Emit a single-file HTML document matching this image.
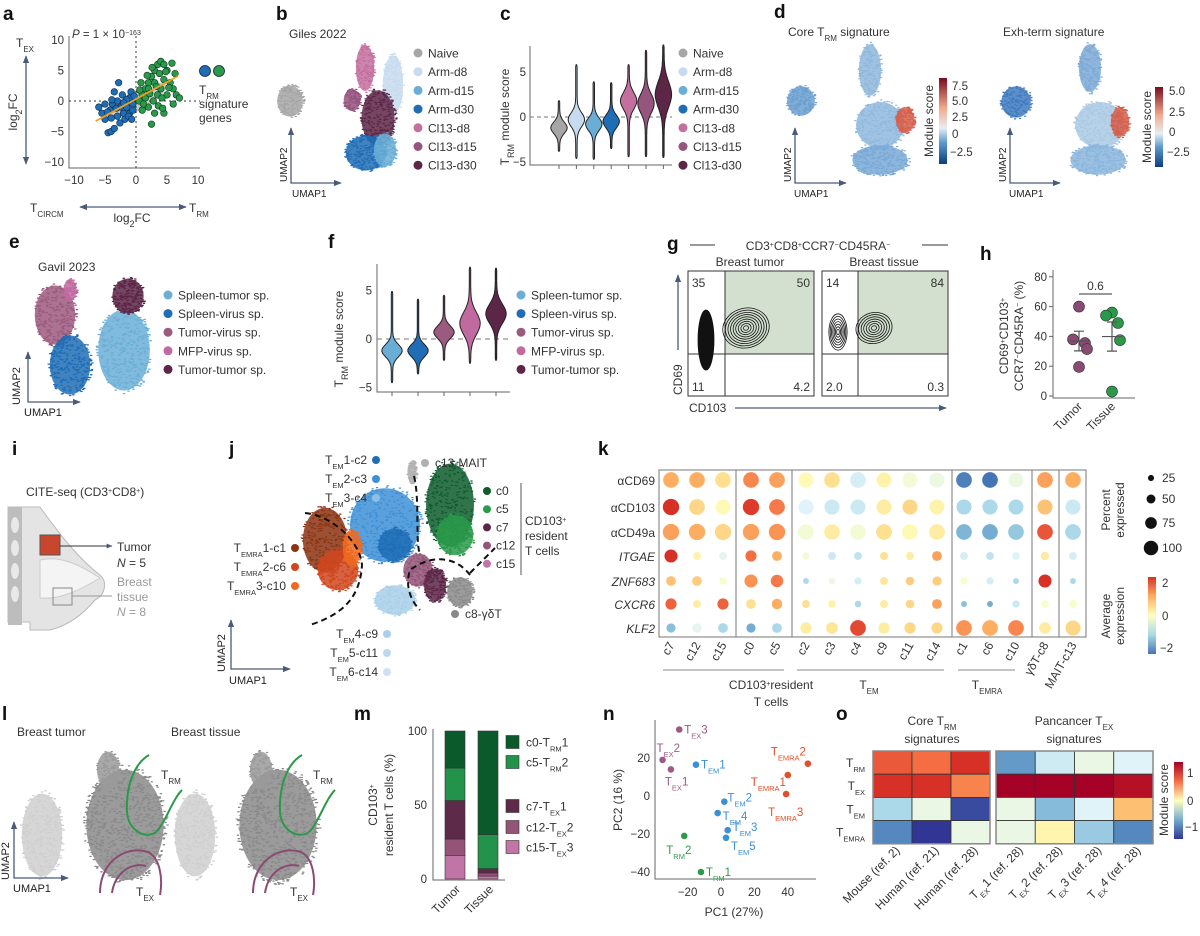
<!DOCTYPE html>
<html><head><meta charset="utf-8"><style>
html,body{margin:0;padding:0;background:#fff;}
svg{display:block;font-family:"Liberation Sans",Arial,sans-serif;}
text{fill:#222;}
.pl{font-weight:bold;font-size:19px;fill:#111;}
.tk{font-size:11.5px;fill:#333;}
.lg{font-size:12px;fill:#333;}
.ax{stroke:#666;stroke-width:1;fill:none;}
.ua{stroke:#4a5a7a;stroke-width:1.3;fill:none;}
</style></head><body>
<svg id="fig" width="1200" height="936" viewBox="0 0 1200 936">
<defs>
<marker id="ah" viewBox="0 0 10 10" refX="9" refY="5" markerWidth="6" markerHeight="6" orient="auto-start-reverse"><path d="M0,1 L10,5 L0,9 z" fill="#4a5a7a"/></marker>
<linearGradient id="gk" x1="0" y1="1" x2="0" y2="0"><stop offset="0" stop-color="#4575b4"/><stop offset="0.25" stop-color="#abd9e9"/><stop offset="0.5" stop-color="#ffffbf"/><stop offset="0.75" stop-color="#fdae61"/><stop offset="1" stop-color="#d73027"/></linearGradient>
<linearGradient id="gd" x1="0" y1="1" x2="0" y2="0"><stop offset="0" stop-color="#0d3d80"/><stop offset="0.25" stop-color="#5b9bd0"/><stop offset="0.42" stop-color="#e8eef3"/><stop offset="0.65" stop-color="#f3a98c"/><stop offset="1" stop-color="#7a0c1e"/></linearGradient>
<linearGradient id="go" x1="0" y1="1" x2="0" y2="0"><stop offset="0" stop-color="#313695"/><stop offset="0.25" stop-color="#74add1"/><stop offset="0.5" stop-color="#ffffbf"/><stop offset="0.75" stop-color="#f46d43"/><stop offset="1" stop-color="#a50026"/></linearGradient>
</defs>

<!-- ============ panel a ============ -->
<g>
<text class="pl" x="3" y="20">a</text>
<g id="aplot"></g>
<text class="lg" x="16" y="47">T<tspan font-size="8" baseline-shift="sub">EX</tspan></text>
<line class="ua" x1="26" y1="56" x2="26" y2="164" marker-start="url(#ah)" marker-end="url(#ah)"/>
<text class="lg" font-size="14" transform="translate(17,112) rotate(-90)" text-anchor="middle">log<tspan font-size="9" baseline-shift="sub">2</tspan>FC</text>
<line class="ua" x1="80" y1="207" x2="186" y2="207" marker-start="url(#ah)" marker-end="url(#ah)"/>
<text class="lg" x="30" y="212">T<tspan font-size="8" baseline-shift="sub">CIRCM</tspan></text>
<text class="lg" x="189" y="212">T<tspan font-size="8" baseline-shift="sub">RM</tspan></text>
<text class="lg" font-size="14" x="132" y="222" text-anchor="middle">log<tspan font-size="9" baseline-shift="sub">2</tspan>FC</text>
<text class="tk" x="72" y="38"><tspan font-style="italic">P</tspan> = 1 × 10<tspan font-size="7" baseline-shift="super">−163</tspan></text>
<circle cx="205" cy="71" r="5.5" fill="#1f6db5" stroke="#123" stroke-width="0.8"/>
<circle cx="219" cy="71" r="5.5" fill="#2a9a4a" stroke="#123" stroke-width="0.8"/>
<text class="lg" x="199" y="94">T<tspan font-size="8" baseline-shift="sub">RM</tspan></text>
<text class="lg" x="199" y="108">signature</text>
<text class="lg" x="199" y="122">genes</text>
</g>

<!-- ============ panel b ============ -->
<g>
<text class="pl" x="276" y="20">b</text>
<text class="lg" x="289" y="38">Giles 2022</text>
<g id="bumap"></g>
<polyline class="ua" points="291,128 291,183 341,183" marker-start="url(#ah)" marker-end="url(#ah)"/>
<text font-size="10" transform="translate(287,182) rotate(-90)">UMAP2</text>
<text font-size="10" x="292" y="197">UMAP1</text>
<g id="blegend"></g>
</g>

<!-- ============ panel c ============ -->
<g>
<text class="pl" x="500" y="20">c</text>
<g id="cplot"></g>
<text class="lg" font-size="13.5" transform="translate(509,117) rotate(-90)" text-anchor="middle">T<tspan font-size="9" baseline-shift="sub">RM</tspan> module score</text>
<g id="clegend"></g>
</g>

<!-- ============ panel d ============ -->
<g>
<text class="pl" x="774" y="18">d</text>
<text class="lg" font-size="13" x="788" y="36">Core T<tspan font-size="8" baseline-shift="sub">RM</tspan> signature</text>
<text class="lg" font-size="13" x="1003" y="36">Exh-term signature</text>
<g id="dumap"></g>
<polyline class="ua" points="795,128 795,183 846,183" marker-start="url(#ah)" marker-end="url(#ah)"/>
<text font-size="10" transform="translate(791,182) rotate(-90)">UMAP2</text>
<text font-size="10" x="794" y="197">UMAP1</text>
<polyline class="ua" points="1010,128 1010,183 1060,183" marker-start="url(#ah)" marker-end="url(#ah)"/>
<text font-size="10" transform="translate(1006,182) rotate(-90)">UMAP2</text>
<text font-size="10" x="1009" y="197">UMAP1</text>
<rect x="939" y="78" width="8" height="86" fill="url(#gd)"/>
<text class="tk" x="952" y="90">7.5</text>
<text class="tk" x="952" y="105">5.0</text>
<text class="tk" x="952" y="121">2.5</text>
<text class="tk" x="952" y="138">0</text>
<text class="tk" x="950" y="156">−2.5</text>
<text class="lg" font-size="13" transform="translate(933,121) rotate(-90)" text-anchor="middle">Module score</text>
<rect x="1155" y="87" width="8" height="80" fill="url(#gd)"/>
<text class="tk" x="1169" y="95">5.0</text>
<text class="tk" x="1169" y="116">2.5</text>
<text class="tk" x="1169" y="136">0</text>
<text class="tk" x="1167" y="156">−2.5</text>
<text class="lg" font-size="13" transform="translate(1151,127) rotate(-90)" text-anchor="middle">Module score</text>
</g>

<!-- ============ panel e ============ -->
<g>
<text class="pl" x="9" y="248">e</text>
<text class="lg" x="38" y="271">Gavil 2023</text>
<g id="eumap"></g>
<polyline class="ua" points="28,352 28,402 80,402" marker-start="url(#ah)" marker-end="url(#ah)"/>
<text font-size="11" transform="translate(20,405) rotate(-90)">UMAP2</text>
<text font-size="11" x="24" y="416">UMAP1</text>
<g id="elegend"></g>
</g>

<!-- ============ panel f ============ -->
<g>
<text class="pl" x="328" y="248">f</text>
<g id="fplot"></g>
<text class="lg" font-size="14" transform="translate(343,339) rotate(-90)" text-anchor="middle">T<tspan font-size="9" baseline-shift="sub">RM</tspan> module score</text>
<g id="flegend"></g>
</g>

<!-- ============ panel g ============ -->
<g>
<text class="pl" x="667" y="250">g</text>
<line x1="690" y1="245" x2="715" y2="245" stroke="#333"/>
<line x1="922" y1="245" x2="948" y2="245" stroke="#333"/>
<text class="lg" font-size="13" x="818" y="250" text-anchor="middle">CD3<tspan font-size="7" baseline-shift="super">+</tspan>CD8<tspan font-size="7" baseline-shift="super">+</tspan>CCR7<tspan font-size="7" baseline-shift="super">−</tspan>CD45RA<tspan font-size="7" baseline-shift="super">−</tspan></text>
<text class="lg" font-size="13" x="750" y="266" text-anchor="middle">Breast tumor</text>
<text class="lg" font-size="13" x="884" y="266" text-anchor="middle">Breast tissue</text>
<g id="gplot"></g>
<line class="ua" x1="678" y1="350" x2="678" y2="275" marker-end="url(#ah)"/>
<text class="lg" font-size="13" transform="translate(682,395) rotate(-90)">CD69</text>
<line class="ua" x1="735" y1="408" x2="946" y2="408" marker-end="url(#ah)"/>
<text class="lg" font-size="13" x="689" y="412">CD103</text>
</g>

<!-- ============ panel h ============ -->
<g>
<text class="pl" x="980" y="260">h</text>
<g id="hplot"></g>
<text class="lg" font-size="12.5" transform="translate(1008,336) rotate(-90)" text-anchor="middle">CD69<tspan font-size="7" baseline-shift="super">+</tspan>CD103<tspan font-size="7" baseline-shift="super">+</tspan></text>
<text class="lg" font-size="12.5" transform="translate(1023,336) rotate(-90)" text-anchor="middle">CCR7<tspan font-size="7" baseline-shift="super">−</tspan>CD45RA<tspan font-size="7" baseline-shift="super">−</tspan> (%)</text>
</g>

<!-- ============ panel i ============ -->
<g>
<text class="pl" x="12" y="455">i</text>
<text class="lg" font-size="13" x="26" y="496">CITE-seq (CD3<tspan font-size="7" baseline-shift="super">+</tspan>CD8<tspan font-size="7" baseline-shift="super">+</tspan>)</text>
<g>
<path d="M8,507 L40,507 C60,535 80,560 100,575 C108,582 105,595 95,600 C85,612 70,625 50,630 L30,630 L30,622 L8,622 Z" fill="#e4e4e4" stroke="#bbb"/>
<path d="M8,507 L22,507 L22,625 L8,625 Z" fill="#bdbdbd"/>
<ellipse cx="15" cy="525" rx="4" ry="8" fill="#e8e8e8"/>
<ellipse cx="15" cy="548" rx="4" ry="8" fill="#e8e8e8"/>
<ellipse cx="15" cy="571" rx="4" ry="8" fill="#e8e8e8"/>
<ellipse cx="15" cy="594" rx="4" ry="8" fill="#e8e8e8"/>
<path d="M40,560 C60,555 80,565 100,578 C80,590 60,600 40,598 Z" fill="#f4f4f4" stroke="#ccc"/>
<rect x="40" y="535" width="20" height="20" fill="#c8462e" stroke="#555"/>
<rect x="53" y="588" width="19" height="17" fill="none" stroke="#888"/>
<line x1="60" y1="546" x2="112" y2="546" stroke="#333" marker-end="url(#ah)"/>
<line x1="72" y1="596" x2="112" y2="596" stroke="#999"/>
</g>
<text class="lg" font-size="13" x="117" y="551">Tumor</text>
<text class="lg" font-size="13" x="117" y="567"><tspan font-style="italic">N</tspan> = 5</text>
<text class="lg" font-size="13" x="117" y="586" style="fill:#999">Breast</text>
<text class="lg" font-size="13" x="117" y="601" style="fill:#999">tissue</text>
<text class="lg" font-size="13" x="117" y="616" style="fill:#999"><tspan font-style="italic">N</tspan> = 8</text>
</g>

<!-- ============ panel j ============ -->
<g>
<text class="pl" x="229" y="455">j</text>
<g id="jumap"></g>
<polyline class="ua" points="231,620 231,669 290,669" marker-start="url(#ah)" marker-end="url(#ah)"/>
<text font-size="11" transform="translate(225,672) rotate(-90)">UMAP2</text>
<text font-size="11" x="229" y="684">UMAP1</text>
<line x1="521" y1="483" x2="521" y2="575" stroke="#555"/>
<text class="lg" x="525" y="525">CD103<tspan font-size="7" baseline-shift="super">+</tspan></text>
<text class="lg" x="525" y="540">resident</text>
<text class="lg" x="525" y="555">T cells</text>
<g id="jlegend"></g>
</g>

<!-- ============ panel k ============ -->
<g>
<text class="pl" x="598" y="455">k</text>
<g id="kplot"></g>
<text class="lg" x="771" y="689" text-anchor="middle" font-size="13">CD103<tspan font-size="7" baseline-shift="super">+</tspan>resident</text>
<text class="lg" x="771" y="706" text-anchor="middle" font-size="13">T cells</text>
<text class="lg" x="869" y="689" text-anchor="middle" font-size="13">T<tspan font-size="8" baseline-shift="sub">EM</tspan></text>
<text class="lg" x="987" y="689" text-anchor="middle" font-size="13">T<tspan font-size="8" baseline-shift="sub">EMRA</tspan></text>
<text class="lg" font-size="12.5" transform="translate(1110,510) rotate(-90)" text-anchor="middle">Percent</text>
<text class="lg" font-size="12.5" transform="translate(1124,510) rotate(-90)" text-anchor="middle">expressed</text>
<g id="klegend"></g>
<text class="lg" font-size="12.5" transform="translate(1110,616) rotate(-90)" text-anchor="middle">Average</text>
<text class="lg" font-size="12.5" transform="translate(1124,616) rotate(-90)" text-anchor="middle">expression</text>
<rect x="1148" y="577" width="8" height="77" fill="url(#gk)"/>
<text class="tk" x="1162" y="587">2</text>
<text class="tk" x="1162" y="620">0</text>
<text class="tk" x="1160" y="652">−2</text>
</g>

<!-- ============ panel l ============ -->
<g>
<text class="pl" x="2" y="720">l</text>
<text class="lg" font-size="13" x="17" y="736">Breast tumor</text>
<text class="lg" font-size="13" x="171" y="736">Breast tissue</text>
<g id="lumap"></g>
<polyline class="ua" points="14,822 14,878 68,878" marker-start="url(#ah)" marker-end="url(#ah)"/>
<text font-size="11" transform="translate(9,880) rotate(-90)">UMAP2</text>
<text font-size="11" x="13" y="892">UMAP1</text>
<text class="lg" font-size="13" x="161" y="779">T<tspan font-size="8" baseline-shift="sub">RM</tspan></text>
<text class="lg" font-size="13" x="313" y="779">T<tspan font-size="8" baseline-shift="sub">RM</tspan></text>
<text class="lg" font-size="13" x="136" y="896">T<tspan font-size="8" baseline-shift="sub">EX</tspan></text>
<text class="lg" font-size="13" x="290" y="896">T<tspan font-size="8" baseline-shift="sub">EX</tspan></text>
</g>

<!-- ============ panel m ============ -->
<g>
<text class="pl" x="354" y="720">m</text>
<g id="mplot"></g>
<text class="lg" font-size="13" transform="translate(377,805) rotate(-90)" text-anchor="middle">CD103<tspan font-size="7" baseline-shift="super">+</tspan></text>
<text class="lg" font-size="13" transform="translate(393,805) rotate(-90)" text-anchor="middle">resident T cells (%)</text>
</g>

<!-- ============ panel n ============ -->
<g>
<text class="pl" x="603" y="720">n</text>
<g id="nplot"></g>
<text class="lg" font-size="13" x="734" y="916" text-anchor="middle">PC1 (27%)</text>
<text class="lg" font-size="13" transform="translate(622,800) rotate(-90)" text-anchor="middle">PC2 (16 %)</text>
</g>

<!-- ============ panel o ============ -->
<g>
<text class="pl" x="836" y="720">o</text>
<text class="lg" font-size="13.5" x="932" y="725" text-anchor="middle">Core T<tspan font-size="8" baseline-shift="sub">RM</tspan></text>
<text class="lg" font-size="13.5" x="932" y="743" text-anchor="middle">signatures</text>
<text class="lg" font-size="13.5" x="1074" y="725" text-anchor="middle">Pancancer T<tspan font-size="8" baseline-shift="sub">EX</tspan></text>
<text class="lg" font-size="13.5" x="1074" y="743" text-anchor="middle">signatures</text>
<g id="oplot"></g>
<rect x="1174" y="762" width="9" height="77" fill="url(#go)"/>
<text class="tk" x="1187" y="777">1</text>
<text class="tk" x="1187" y="805">0</text>
<text class="tk" x="1185" y="831">−1</text>
<text class="lg" font-size="13" transform="translate(1168,800) rotate(-90)" text-anchor="middle">Module score</text>
</g>
</svg>

<script>
// ---------------- data ----------------
const aBlueX=[-6,-5.5,-5,-4.5,-4,-3.5,-4.2,-3.8,-3,-2.5,-2,-1.5,-1,-0.5,-3,-2.2,-1.8,-1,-0.5,-4,-5,-3.5,-2.8,-1.5,-0.8,-2,-3.2,-4.6,-1.2,-0.3,-2.6,-3.9,-0.7];
const aBlueY=[-1,-2,-3,-5.2,-5,-4.5,-1.5,-0.5,0,-1,-2,-1,0.5,-0.5,-2.5,1,-3,-2,-1.5,-2.8,-0.5,1.5,3,0.2,1.5,-0.3,-1.2,-1.8,-2.5,0.8,-3.6,0.2,-3];
const aGreenX=[0.5,1,1.5,2,2.5,3,3.5,4,4.5,5,5.5,6,6.5,7,2,3,4.5,2.5,1,3.5,4,4.5,3,2,1.5,0.8,5,6,3.8,2.8,4.2,5.3,1.2,2.2,3.3,4.8,6.3,3.6,0.6,2.6,5.8,4.3,1.8];
const aGreenY=[0,1,2,3,4,5,6,6.5,6,5,3,2,1,0.5,-1,-2,-2,-3.8,-1.5,1,2,3.5,3,2,0.5,3,1,-0.5,4.5,0,0.5,2.2,-0.5,1.2,2.4,4.8,4.5,-0.8,1.8,5.5,6.2,-1.2,4.2];
const aFitX=[-6.5,6.8];
const aFitY=[-3.3,4.1];

const cCats=['Naive','Arm-d8','Arm-d15','Arm-d30','Cl13-d8','Cl13-d15','Cl13-d30'];
const cMin=[-3.8,-4.6,-4.7,-3.5,-4.4,-4.4,-4.5];
const cMax=[1.8,5.8,3.9,3.8,5.8,7.4,8.0];
const cMode=[-1.2,-0.3,-0.8,-0.5,1.8,1.5,2.5];
const cSpread=[0.9,1.1,1.0,1.0,1.3,1.5,2.0];
const cColors=['#a6a6a6','#c6dbef','#6aaed6','#1f6db5','#c4709f','#96557f','#5c2646'];

const fCats=['Spleen-tumor sp.','Spleen-virus sp.','Tumor-virus sp.','MFP-virus sp.','Tumor-tumor sp.'];
const fMin=[-4.5,-3.6,-2.2,-2.5,-2.2];
const fMax=[4.9,4.1,4.5,7.4,7.3];
const fMode=[-1.2,-1.2,0.7,1.6,2.6];
const fSpread=[0.9,0.9,0.9,1.6,1.4];
const fColors=['#6aaed6','#1f6db5','#9c5a7e','#c16a9f','#5c2646'];

const hCats=['Tumor','Tissue'];
const hTumor=[60,38,35.5,31.5,19.5];
const hTissue=[56,54,49,37.5,3];
const hTicks=[0,20,40,60,80];
const hPval='0.6';

const kRows=['αCD69','αCD103','αCD49a','ITGAE','ZNF683','CXCR6','KLF2'];
const kCols=['c7','c12','c15','c0','c5','c2','c3','c4','c9','c11','c14','c1','c6','c10','γδT-c8','MAIT-c13'];
const kExpr=[
[1.0,1.0,0.5,1.3,1.1,0.1,0.5,-0.6,0.2,-0.2,-0.3,-1.9,-2.0,-0.3,1.1,1.0],
[2.0,0.6,0.1,1.9,1.4,-0.5,-0.7,-0.7,0.3,0.6,0.2,-1.0,-1.0,-1.0,0.8,-0.7],
[1.1,1.0,0.6,1.1,1.2,-0.2,0.3,-0.2,0.5,0.1,0.3,-1.4,-1.5,-1.2,1.7,-1.0],
[2.0,0.2,-0.4,1.5,1.0,-0.2,-0.7,-0.8,0.5,0.3,1.1,-0.6,-0.8,-0.5,0.3,-0.6],
[0.8,0.7,-0.1,1.2,1.4,-1.0,-0.3,-0.6,0.4,0.7,0.7,-0.1,-0.6,-1.0,2.0,-1.0],
[1.6,0.3,1.6,0.5,1.0,0.5,0.2,-1.0,0.3,0.6,1.1,-1.3,-1.5,-0.7,-0.1,-0.1],
[-1.3,-0.4,-1.0,-1.5,-1.0,0.3,0.4,1.8,0.3,0.6,0.6,1.2,1.0,1.3,0.3,0.6]];
const kPct=[
[90,90,90,90,90,85,90,90,85,85,85,90,90,85,90,90],
[95,90,85,95,90,85,85,85,85,85,85,85,85,85,85,85],
[95,95,95,95,95,90,90,90,90,90,90,90,90,90,90,90],
[70,30,30,55,45,25,30,30,30,30,45,30,30,30,35,30],
[45,45,25,70,65,15,20,25,30,35,40,25,25,15,70,15],
[55,30,55,45,50,30,30,20,30,35,45,15,15,25,25,30],
[40,40,45,40,45,55,60,90,55,55,55,90,90,90,60,85]];
const kSizeLegend=[25,50,75,100];

const mCats=['Tumor','Tissue'];
const mSeries=['c15-T_EX3','c12-T_EX2','c7-T_EX1','c5-T_RM2','c0-T_RM1'];
const mC15=[16,2];
const mC12=[11,2];
const mC7=[26,3];
const mC5=[22,23];
const mC0=[25,70];
const mTicks=[0,50,100];

const nLabels=['TEX3','TEX2','TEX1','TEM1','TEMRA2','TEMRA1','TEMRA3','TEM2','TEM4','TEM3','TEM5','TRM2','TRM1'];
const nPC1=[-25,-35,-30,-15,52,40,39,2,-2,4,3,-22,-12];
const nPC2=[35,19,14,16.5,17,11,1,-3,-9,-18,-22,-21,-40];
const nXTicks=[-20,0,20,40];
const nYTicks=[-40,-20,0,20];

const oRows=['RM','EX','EM','EMRA'];
const oCols=['Mouse (ref. 2)','Human (ref. 21)','Human (ref. 28)','1 (ref. 28)','2 (ref. 28)','3 (ref. 28)','4 (ref. 28)'];
const oVals=[
[1.0,0.9,1.2,-1.0,-0.4,-0.2,-0.3],
[1.2,1.2,0.8,1.5,1.5,1.5,1.4],
[-0.6,-0.2,-1.4,-0.2,-0.8,-0.3,0.5],
[-1.1,-1.5,-0.2,-0.2,0.1,-0.7,-1.1]];

// ---------------- helpers ----------------
const NS='http://www.w3.org/2000/svg';
function mk(tag,attrs,parent){const e=document.createElementNS(NS,tag);for(const k in attrs)e.setAttribute(k,attrs[k]);parent.appendChild(e);return e;}
function G(id){return document.getElementById(id);}
function subText(el,main,sub,post){el.textContent='';el.appendChild(document.createTextNode(main));const t=document.createElementNS(NS,'tspan');t.setAttribute('font-size','7.5');t.setAttribute('baseline-shift','sub');t.textContent=sub;el.appendChild(t);if(post){el.appendChild(document.createTextNode(post));}}
const RdYlBu=['#313695','#4575b4','#74add1','#abd9e9','#e0f3f8','#ffffbf','#fee090','#fdae61','#f46d43','#d73027','#a50026'];
function hex2(h){return [1,3,5].map(i=>parseInt(h.substr(i,2),16));}
function cmap(t){t=Math.max(0,Math.min(1,t));const p=t*10,i=Math.min(9,Math.floor(p)),f=p-i;const a=hex2(RdYlBu[i]),b=hex2(RdYlBu[i+1]);return 'rgb('+a.map((v,j)=>Math.round(v+(b[j]-v)*f)).join(',')+')';}
let seed=7;function rnd(){seed=(seed*16807)%2147483647;return seed/2147483647;}
function speckle(parent,cx,cy,rx,ry,color,n,r,name){
  const g=mk('g',{},parent);
  
  
  const e=mk('ellipse',{cx:cx,cy:cy,rx:rx*0.92,ry:ry*0.92,fill:color,opacity:0.85},g);
  
  
  let d='';
  for(let i=0;i<n;i++){const a=rnd()*6.283,q=Math.sqrt(rnd());const x=cx+Math.cos(a)*rx*q,y=cy+Math.sin(a)*ry*q;d+='M'+x.toFixed(1)+','+y.toFixed(1)+'h'+r;}
  const p=mk('path',{d:d,stroke:color,'stroke-width':r,'stroke-linecap':'round',fill:'none'},g);
  
  
}
function legendList(parent,x,y0,step,labels,colors,prefix){
  labels.forEach((l,i)=>{
    const c=mk('circle',{cx:x,cy:y0+i*step,r:4.5,fill:colors[i]},parent);
    
    
    const t=mk('text',{x:x+10,y:y0+i*step+4.5,class:'lg'},parent);
    
    
    t.textContent=l;
  });
}
function violin(parent,cx,Y,vmin,vmax,mode,spread,W,color,name){
  const N=50,R=[],L=[];
  for(let i=0;i<=N;i++){const v=vmin+(vmax-vmin)*i/N;let w=0.7+W*Math.exp(-Math.pow((v-mode)/spread,2));if(i===0||i===N)w=0.3;R.push((cx+w).toFixed(1)+','+Y(v).toFixed(1));L.unshift((cx-w).toFixed(1)+','+Y(v).toFixed(1));}
  const p=mk('path',{d:'M'+R.join(' L')+' L'+L.join(' L')+'Z',fill:color,stroke:'#222','stroke-width':1},parent);
  
  
}

// ---------------- panel a ----------------
(function(){
  const g=G('aplot');const X=v=>136+v*6.2, Y=v=>101-v*6.1;
  const ax=mk('path',{d:'M69,36 V168 H200',class:'ax'},g);
  
  
  [-10,-5,0,5,10].forEach(v=>{
    const t=mk('text',{x:64,y:Y(v)+4,class:'tk','text-anchor':'end'},g);
    
    
    t.textContent=v<0?'−'+(-v):v;
    const u=mk('text',{x:X(v),y:184,class:'tk','text-anchor':'middle'},g);
    
    
    u.textContent=v<0?'−'+(-v):v;
  });
  const c=mk('ellipse',{cx:X(0),cy:Y(0),rx:34,ry:10,fill:'#c8c8c8',transform:'rotate(-28 '+X(0)+' '+Y(0)+')'},g);
  
  
  const d1=mk('line',{x1:X(0),y1:36,x2:X(0),y2:168,stroke:'#333','stroke-dasharray':'2,3'},g);
  
  
  const d2=mk('line',{x1:69,y1:Y(0),x2:200,y2:Y(0),stroke:'#333','stroke-dasharray':'2,3'},g);
  
  
  aBlueX.forEach((x,i)=>{const p=mk('circle',{cx:X(x),cy:Y(aBlueY[i]),r:3.3,fill:'#1f6db5',stroke:'#0d2a4a','stroke-width':0.6},g);
    
    });
  aGreenX.forEach((x,i)=>{const p=mk('circle',{cx:X(x),cy:Y(aGreenY[i]),r:3.3,fill:'#2a9a4a',stroke:'#0d3a1a','stroke-width':0.6},g);
    
    });
  const f=mk('line',{x1:X(aFitX[0]),y1:Y(aFitY[0]),x2:X(aFitX[1]),y2:Y(aFitY[1]),stroke:'#f0a020','stroke-width':1.8},g);
  
  
})();

// ---------------- panel b UMAP ----------------
(function(){
  const g=G('bumap');
  speckle(g,290,101,14,17,'#a6a6a6',150,1.2,'naive-cluster');
  speckle(g,393,85,11,32,'#c6dbef',150,1.2,'arm-d8-cluster');
  speckle(g,365,68,10,25,'#c4709f',150,1.2,'cl13-d8-cluster');
  speckle(g,352,100,9,12,'#96557f',120,1.2,'cl13-d15-cluster');
  speckle(g,378,118,18,30,'#5c2646',250,1.2,'cl13-d30-cluster');
  speckle(g,366,153,22,19,'#1f6db5',260,1.2,'arm-d30-cluster');
  speckle(g,385,150,12,18,'#6aaed6',150,1.2,'arm-d15-cluster');
  legendList(G('blegend'),418,53,18.7,cCats,cColors,'legend-b');
})();

// ---------------- panel c ----------------
(function(){
  const g=G('cplot');const Y=v=>117-v*9;const X=i=>559+i*17.4;
  const ax=mk('path',{d:'M530,46 V165 H672',class:'ax'},g);
  
  
  [-5,0,5].forEach(v=>{const t=mk('text',{x:526,y:Y(v)+4,class:'tk','text-anchor':'end'},g);
    
    
    t.textContent=v<0?'−5':v;});
  const dl=mk('line',{x1:530,y1:Y(0),x2:672,y2:Y(0),stroke:'#777','stroke-dasharray':'4,3'},g);
  
  
  cCats.forEach((c,i)=>{violin(g,X(i),Y,cMin[i],cMax[i],cMode[i],cSpread[i],7.5,cColors[i],'violin-'+c);
    const tk=mk('line',{x1:X(i),y1:165,x2:X(i),y2:169,stroke:'#666'},g);
    
    });
  legendList(G('clegend'),683,53,18.7,cCats,cColors,'legend-c');
})();

// ---------------- panel d ----------------
(function(){
  const g=G('dumap');
  speckle(g,801,101,15,16,'#6b9fd0',150,1.2,'d1-naive-cluster');
  speckle(g,870,70,12,28,'#8fb7dc',150,1.2,'d1-top');
  speckle(g,880,125,26,25,'#8fb9de',260,1.2,'d1-middle');
  speckle(g,880,160,30,16,'#79a9d6',260,1.2,'d1-bottom');
  speckle(g,905,120,10,14,'#d6604d',150,1.2,'d1-hot-region');
  speckle(g,1016,102,16,17,'#3f7bbf',150,1.2,'d2-naive-cluster');
  speckle(g,1090,68,12,26,'#7ca9d6',150,1.2,'d2-top');
  speckle(g,1100,125,27,25,'#a9c9e4',260,1.2,'d2-middle');
  speckle(g,1098,160,30,16,'#8ab5dc',260,1.2,'d2-bottom');
  speckle(g,1120,122,10,16,'#d6604d',150,1.2,'d2-hot-region');
})();

// ---------------- panel e ----------------
(function(){
  const g=G('eumap');
  speckle(g,55,315,22,32,'#9c5a7e',250,1.3,'tumor-virus-cluster');
  speckle(g,70,290,7,12,'#c16a9f',80,1.3,'mfp-virus-cluster');
  speckle(g,70,365,22,32,'#1f6db5',250,1.3,'spleen-virus-cluster');
  speckle(g,124,350,28,44,'#6aaed6',300,1.3,'spleen-tumor-cluster');
  speckle(g,128,296,17,19,'#5c2646',200,1.3,'tumor-tumor-cluster');
  legendList(G('elegend'),168,295,18.6,fCats,fColors,'legend-e');
})();

// ---------------- panel f ----------------
(function(){
  const g=G('fplot');const Y=v=>339-v*9.7;const X=i=>392+i*26;
  const ax=mk('path',{d:'M377,264 V392 H510',class:'ax'},g);
  
  
  [-5,0,5].forEach(v=>{const t=mk('text',{x:372,y:Y(v)+4,class:'tk','text-anchor':'end'},g);
    
    
    t.textContent=v<0?'−5':v;});
  const dl=mk('line',{x1:377,y1:Y(0),x2:510,y2:Y(0),stroke:'#777','stroke-dasharray':'5,4'},g);
  
  
  fCats.forEach((c,i)=>{violin(g,X(i),Y,fMin[i],fMax[i],fMode[i],fSpread[i],9.5,fColors[i],'violin-'+c);
    const tk=mk('line',{x1:X(i),y1:392,x2:X(i),y2:396,stroke:'#666'},g);
    
    });
  legendList(G('flegend'),521,295,18.6,fCats,fColors,'legend-f');
})();

// ---------------- panel g ----------------
(function(){
  const g=G('gplot');
  const boxes=[{x:688,v:725,n:['35','50','11','4.2'],name:'tumor'},{x:822,v:858,n:['14','84','2.0','0.3'],name:'tissue'}];
  boxes.forEach((b,k)=>{
    const q=mk('rect',{x:b.v,y:271,width:b.x+126-b.v,height:83,fill:'#d3e0cf'},g);
    
    
    const r=mk('rect',{x:b.x,y:271,width:126,height:125,fill:'none',stroke:'#333'},g);
    
    
    const l1=mk('line',{x1:b.v,y1:271,x2:b.v,y2:396,stroke:'#333'},g);
    
    
    const l2=mk('line',{x1:b.x,y1:354,x2:b.x+126,y2:354,stroke:'#333'},g);
    
    
    const pos=[[b.x+4,287,'start'],[b.x+122,287,'end'],[b.x+4,391,'start'],[b.x+122,391,'end']];
    pos.forEach((p,i)=>{const t=mk('text',{x:p[0],y:p[1],'text-anchor':p[2],class:'lg'},g);
      
      
      t.textContent=b.n[i];});
    const cg=mk('g',{fill:'none',stroke:'#111','stroke-width':0.8},g);
    
    
    const cx1=b.x+18, cx2=b.x+(k?52:58);
    if(k===0){
      const e=mk('ellipse',{cx:cx1,cy:340,rx:8,ry:30,fill:'#111'},cg);
      
      
    }
    for(let i=1;i<=(k?7:9);i++){
      if(k===1){const e=mk('ellipse',{cx:cx1-2,cy:332,rx:1.3*i,ry:2.6*i},cg);
        
        }
      const e2=mk('ellipse',{cx:cx2,cy:328,rx:2.6*i,ry:2.2*i,transform:'rotate(-15 '+cx2+' 328)'},cg);
      
      
    }
  });
})();

// ---------------- panel h ----------------
(function(){
  const g=G('hplot');const Y=v=>396-v*1.49;const X=i=>1079+i*33;
  const ax=mk('path',{d:'M1053,270 V398 H1135',class:'ax'},g);
  
  
  hTicks.forEach(v=>{const t=mk('text',{x:1047,y:Y(v)+4,class:'tk','text-anchor':'end'},g);
    
    
    t.textContent=v;
    const m=mk('line',{x1:1049,y1:Y(v),x2:1053,y2:Y(v),stroke:'#666'},g);
    
    });
  const jit=[0,-6,6,8,0];
  [hTumor,hTissue].forEach((arr,k)=>{
    const mean=arr.reduce((a,b)=>a+b,0)/arr.length;
    const sd=Math.sqrt(arr.reduce((a,b)=>a+(b-mean)*(b-mean),0)/(arr.length-1));const se=sd/Math.sqrt(arr.length);
    const col=k?'#2a9a4a':'#8b4a73';
    arr.forEach((v,i)=>{const c=mk('circle',{cx:X(k)+jit[i],cy:Y(v),r:5.5,fill:col,stroke:'#333','stroke-width':0.6},g);
      
      });
    const eb=mk('path',{d:'M'+(X(k)-10)+','+Y(mean)+' h20 M'+X(k)+','+Y(mean-se)+' V'+Y(mean+se)+' M'+(X(k)-5)+','+Y(mean-se)+' h10 M'+(X(k)-5)+','+Y(mean+se)+' h10',stroke:'#555','stroke-width':1.2,fill:'none'},g);
    
    
    const t=mk('text',{x:X(k)+4,y:407,class:'lg','text-anchor':'end',transform:'rotate(-45 '+(X(k)+4)+' 407)'},g);
    
    
    t.textContent=hCats[k];
  });
  const br=mk('line',{x1:X(0),y1:294,x2:X(1),y2:294,stroke:'#333'},g);
  
  
  const pt=mk('text',{x:(X(0)+X(1))/2,y:290,class:'lg','text-anchor':'middle'},g);
  
  
  pt.textContent=hPval;
})();

// ---------------- panel j ----------------
(function(){
  const g=G('jumap');
  speckle(g,412,472,5,12,'#b0b0b0',80,1.2,'c13-mait-cluster');
  speckle(g,460,592,14,16,'#8a8a8a',120,1.2,'c8-gdt-cluster');
  speckle(g,395,600,22,16,'#a9cfe9',150,1.2,'c9-cluster');
  speckle(g,385,525,38,40,'#3d8fd6',350,1.2,'tem-cluster');
  speckle(g,395,545,18,18,'#1f6db5',150,1.2,'c2-cluster');
  speckle(g,450,505,26,45,'#0d5c2d',300,1.2,'c0-cluster');
  speckle(g,455,535,20,22,'#2a9a4a',200,1.2,'c5-cluster');
  speckle(g,418,570,16,18,'#935478',150,1.2,'c12-cluster');
  speckle(g,435,585,12,18,'#5c2646',150,1.2,'c7-cluster');
  speckle(g,325,540,24,35,'#8b3312',250,1.2,'c1-cluster');
  speckle(g,338,570,22,22,'#d0461f',200,1.2,'c6-cluster');
  speckle(g,352,548,10,20,'#ef6a1f',120,1.2,'c10-cluster');
  const d=mk('path',{d:'M305,513 C330,515 360,540 362,565 C360,600 340,615 310,625 M414,476 C420,500 415,540 420,555 M470,575 C455,555 430,555 410,570 C405,585 410,600 420,610 M470,573 L495,548',fill:'none',stroke:'#111','stroke-width':2,'stroke-dasharray':'6,4'},g);
  
  
  const lg=G('jlegend');
  const left=[['EM','1-c2',460,'#1f6db5'],['EM','2-c3',479,'#3d8fd6'],['EM','3-c4',498,'#8ec0e6']];
  const tl=[['EMRA','1-c1',548,'#8b3312'],['EMRA','2-c6',567,'#d0461f'],['EMRA','3-c10',586,'#ef6a1f']];
  const bl=[['EM','4-c9',634,'#a9cfe9'],['EM','5-c11',653,'#bcd7ee'],['EM','6-c14',672,'#cfe1f2']];
  [[left,367],[tl,286],[bl,378]].forEach(([arr,xr])=>arr.forEach(a=>{
    const t=mk('text',{x:xr,y:a[2]+4,class:'lg','text-anchor':'end'},lg);
    
    
    subText(t,'T',a[0],a[1]);
    const c=mk('circle',{cx:xr+9,cy:a[2],r:4,fill:a[3]},lg);
    
    }));
  const rt=[['c0','#0d5c2d'],['c5','#2a9a4a'],['c7','#5c2646'],['c12','#935478'],['c15','#c273a8']];
  rt.forEach((a,i)=>{const c=mk('circle',{cx:487,cy:491+i*18.2,r:4,fill:a[1]},lg);
    
    
    const t=mk('text',{x:496,y:495+i*18.2,class:'lg'},lg);
    
    
    t.textContent=a[0];});
  [['c13-MAIT',425,463,'#b0b0b0'],['c8-γδT',455,614,'#888']].forEach(a=>{
    const c=mk('circle',{cx:a[1],cy:a[2],r:4,fill:a[3]},lg);
    
    
    const t=mk('text',{x:a[1]+10,y:a[2]+4,class:'lg'},lg);
    
    
    t.textContent=a[0];});
})();

// ---------------- panel k ----------------
(function(){
  const g=G('kplot');
  const colX=[671,697,723,751,777,806,832,858,884,910,937,964,990,1016,1045,1073];
  const rowY=[480,507,532,556,581,604,628];
  const rad=p=>2+p*0.065;
  const fr=mk('rect',{x:659,y:470,width:427,height:167,fill:'none',stroke:'#777'},g);
  
  
  [736,792,952,1032,1059].forEach(x=>{const l=mk('line',{x1:x,y1:470,x2:x,y2:637,stroke:'#777'},g);
    
    });
  kRows.forEach((r,i)=>{
    const t=mk('text',{x:655,y:rowY[i]+5,'text-anchor':'end',class:'lg','font-size':'14'},g);
    
    
    if(i>=3)t.setAttribute('font-style','italic');
    t.textContent=r;
    kCols.forEach((c,j)=>{const d=mk('circle',{cx:colX[j],cy:rowY[i],r:rad(kPct[i][j]),fill:cmap(0.1+0.8*(kExpr[i][j]+2)/4)},g);
      
      });
  });
  kCols.forEach((c,j)=>{const t=mk('text',{x:colX[j]+4,y:645,'text-anchor':'end',class:'lg','font-size':'13',transform:'rotate(-60 '+(colX[j]+4)+' 645)'},g);
    
    
    t.textContent=c;});
  [[663,784],[797,944],[958,1015]].forEach(s=>{const l=mk('line',{x1:s[0],y1:670,x2:s[1],y2:670,stroke:'#888'},g);
    
    });
  const lg=G('klegend');
  const ly=[478,499,523,548];
  kSizeLegend.forEach((p,i)=>{const c=mk('circle',{cx:1151,cy:ly[i],r:rad(p)*0.85,fill:'#111'},lg);
    
    
    const t=mk('text',{x:1162,y:ly[i]+4,class:'lg'},lg);
    
    
    t.textContent=p;});
})();

// ---------------- panel l ----------------
(function(){
  const g=G('lumap');
  [0,153].forEach((dx,k)=>{
    const s=mk('g',{transform:'translate('+dx+',0)'},g);
    
    
    speckle(s,42,835,22,45,'#cfcfcf',300,1.3,'light-cells');
    speckle(s,125,825,42,60,'#8a8a8a',700,1.3,'dark-cells');
    speckle(s,108,770,12,20,'#9a9a9a',100,1.3,'dark-cells-top');
    const gr=mk('path',{d:'M149,755 C132,765 126,790 127,812 C128,830 145,840 156,832 C166,822 172,800 182,790',fill:'none',stroke:'#2a9a4a','stroke-width':2},s);
    
    
    const pu=mk('path',{d:'M100,893 C100,862 125,845 148,852 C160,858 163,878 160,895 M112,893 C115,872 132,862 146,866',fill:'none',stroke:'#8b4a73','stroke-width':2},s);
    
    
  });
})();

// ---------------- panel m ----------------
(function(){
  const g=G('mplot');const Y=v=>879-v*1.48;const X=[445,478];
  const ax=mk('path',{d:'M433,729 V880 H505',class:'ax'},g);
  
  
  mTicks.forEach(v=>{const t=mk('text',{x:427,y:Y(v)+4,class:'tk','text-anchor':'end'},g);
    
    
    t.textContent=v;});
  const series=[mC15,mC12,mC7,mC5,mC0];
  const cols=['#c174a6','#935478','#5e2a4a','#23924a','#0a5a2c'];
  mCats.forEach((c,i)=>{let acc=0;series.forEach((s,k)=>{
    const r=mk('rect',{x:X[i],y:Y(acc+s[i]),width:20,height:Y(acc)-Y(acc+s[i]),fill:cols[k],stroke:'#333','stroke-width':0.6},g);
    
    
    acc+=s[i];});
    const t=mk('text',{x:X[i]+16,y:890,class:'lg','font-size':'13','text-anchor':'end',transform:'rotate(-45 '+(X[i]+16)+' 890)'},g);
    
    
    t.textContent=c;});
  const ly=[742,762,806,827,847];
  [4,3,2,1,0].forEach((k,i)=>{
    const r=mk('rect',{x:506,y:ly[i]-6.5,width:13,height:13,fill:cols[k],stroke:'#333','stroke-width':0.6},g);
    
    
    const parts=mSeries[k].split('_');const t=mk('text',{x:526,y:ly[i]+4.5,class:'lg'},g);
    
    
    subText(t,parts[0].slice(0,-1)+'T',parts[1].slice(0,2),parts[1].slice(2));});
})();

// ---------------- panel n ----------------
(function(){
  const g=G('nplot');const X=v=>721+v*1.67;const Y=v=>796-v*1.9;
  const ax=mk('path',{d:'M655,720 V879 H816',class:'ax'},g);
  
  
  nXTicks.forEach(v=>{const t=mk('text',{x:X(v),y:896,class:'tk','text-anchor':'middle'},g);
    
    
    t.textContent=v<0?'−'+(-v):v;});
  nYTicks.forEach(v=>{const t=mk('text',{x:650,y:Y(v)+4,class:'tk','text-anchor':'end'},g);
    
    
    t.textContent=v<0?'−'+(-v):v;});
  const colOf=l=>l.startsWith('TEMRA')?'#e0502a':l.startsWith('TEM')?'#3b8fd6':l.startsWith('TEX')?'#9c5a85':'#2e9a48';
  const off={TEX3:[5,0],TEX2:[-6,-12],TEX1:[-6,12],TEM1:[5,0],TEMRA2:[-37,-12],TEMRA1:[-37,7],TEMRA3:[-18,18],TEM2:[3,-4],TEM4:[5,3],TEM3:[5,-3],TEM5:[5,8],TRM2:[-18,14],TRM1:[5,0]};
  nLabels.forEach((l,i)=>{const c=colOf(l);
    const p=mk('circle',{cx:X(nPC1[i]),cy:Y(nPC2[i]),r:3.3,fill:c},g);
    
    
    const m=l.match(/^T(EMRA|EM|EX|RM)(\d)$/);
    const t=mk('text',{x:X(nPC1[i])+off[l][0],y:Y(nPC2[i])+off[l][1]+4,'font-size':'11.5',style:'fill:'+c},g);
    
    
    subText(t,'T',m[1],m[2]);});
})();

// ---------------- panel o ----------------
(function(){
  const g=G('oplot');const cw=[39,39,39,39.25,39.25,39.25,39.25];
  const cx=[873,912,951,996,1035.25,1074.5,1113.75];const rh=23.2,top=751;
  oRows.forEach((r,i)=>{
    const t=mk('text',{x:865,y:top+i*rh+16,'text-anchor':'end',class:'lg','font-size':'14'},g);
    
    
    subText(t,'T',r,'');
    oCols.forEach((c,j)=>{const q=mk('rect',{x:cx[j],y:top+i*rh,width:cw[j],height:rh,fill:cmap((oVals[i][j]+1.5)/3),stroke:'#333','stroke-width':0.8},g);
      
      });
  });
  [[873,117],[996,157]].forEach(b=>{const f=mk('rect',{x:b[0],y:top,width:b[1],height:rh*4,fill:'none',stroke:'#888','stroke-width':1.5},g);
    
    });
  oCols.forEach((c,j)=>{const ax=cx[j]+cw[j]/2+8;const t=mk('text',{x:ax,y:851,'text-anchor':'end',class:'lg','font-size':'13',transform:'rotate(-45 '+ax+' 851)'},g);
    
    
    if(j<3)t.textContent=c;else subText(t,'T','EX',c);});
})();
</script>
</body></html>
